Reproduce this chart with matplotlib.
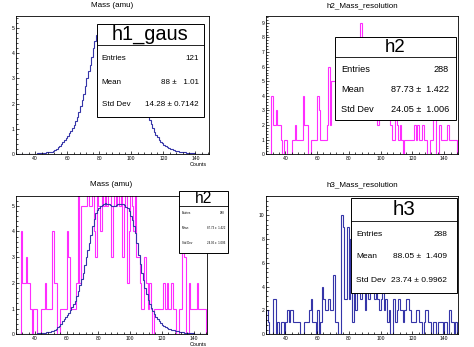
"""Four ROOT-style histogram panels: h1_gaus, h2, overlay, h3."""
import numpy as np
import matplotlib
matplotlib.use("Agg")
import matplotlib.pyplot as plt
from matplotlib.patches import Rectangle
from matplotlib.lines import Line2D
from matplotlib.ticker import MultipleLocator

plt.rcParams["font.family"] = ["Liberation Sans", "DejaVu Sans"]

W, H = 474, 347

# bins are 1 unit wide, starting at BIN_LO
BIN_LO, BIN_HI = 28, 148

# smooth gaussian-like histogram (bins 28..147)
h1_gaus = [
    0.00, 0.00, 0.00, 0.00, 0.00,
    0.01, 0.01, 0.01, 0.02, 0.02, 0.03, 0.03,
    0.03, 0.04, 0.04, 0.05, 0.05, 0.06, 0.07, 0.08, 0.09, 0.10,
    0.11, 0.13, 0.16, 0.21, 0.27, 0.34, 0.42, 0.50, 0.58, 0.66,
    0.74, 0.84, 0.94, 1.05, 1.16, 1.30, 1.48, 1.68, 1.92, 2.15,
    2.40, 2.70, 3.00, 3.28, 3.55, 3.85, 4.20, 4.50, 4.72, 4.85,
    4.93, 4.98, 5.03, 5.07, 5.09, 5.08, 5.05, 5.02, 5.00, 4.99,
    5.00, 5.03, 5.06, 5.08, 5.08, 5.06, 5.02, 4.97, 4.90, 4.78,
    4.62, 4.45, 4.20, 3.95, 3.55, 3.10, 2.75, 2.40, 2.10, 1.80,
    1.55, 1.35, 1.18, 1.03, 0.90, 0.78, 0.67, 0.58, 0.50, 0.43,
    0.37, 0.33, 0.29, 0.25, 0.22, 0.19, 0.17, 0.15, 0.13, 0.12,
    0.11, 0.10, 0.09, 0.08, 0.07, 0.06, 0.05, 0.05, 0.04, 0.04,
    0.03, 0.03, 0.02, 0.01, 0.01, 0.00, 0.00, 0.00,
]

# h2 counts (bins 28..147)
h2_counts = [
    0, 0, 0, 4, 2, 2, 3, 2, 2, 1, 0, 1,
    1, 0, 0, 0, 1, 1, 2, 1, 1, 1,
    1, 4, 2, 2, 0, 0, 1, 1, 1, 1,
    4, 3, 1, 1, 1, 1, 2, 6, 2, 5,
    5, 5, 5, 6, 5, 5, 7, 4, 3, 6,
    5, 4, 6, 5, 7, 5, 6, 9, 3, 5,
    6, 5, 7, 5, 6, 3, 5, 6, 2, 4,
    6, 5, 4, 6, 3, 3, 2, 1, 1, 3,
    2, 1, 2, 1, 0, 1, 1, 1, 1, 1,
    1, 2, 1, 2, 1, 1, 2, 1, 1, 0,
    0, 1, 1, 4, 3, 0, 0, 2, 1, 1,
    1, 1, 2, 1, 1, 1, 1, 1,
]

# h3 counts (bins 28..147)
h3_counts = [
    2, 1, 0, 0, 3, 3, 0, 1, 0, 1, 1, 0,
    1, 2, 1, 2, 2, 1, 1, 1, 1, 0,
    0, 0, 1, 1, 1, 2, 3, 1, 1, 0,
    2, 0, 1, 4, 3, 2, 2, 3, 2, 2,
    5, 1, 1, 0, 0, 10, 9, 3, 3, 9,
    3, 8, 1, 4, 2, 5, 6, 3, 6, 4,
    2, 5, 3, 6, 4, 5, 3, 4, 3, 2,
    3, 4, 2, 3, 1, 2, 0, 0, 3, 1,
    2, 3, 2, 2, 1, 2, 3, 3, 2, 1,
    1, 1, 2, 2, 1, 1, 0, 1, 2, 2,
    1, 1, 0, 1, 1, 0, 1, 1, 1, 0,
    1, 1, 0, 2, 1, 1, 0, 1,
]

stats_labels = ["Entries", "Mean", "Std Dev"]
stats_h1 = ["121", "88 \u00b1   1.01", "14.28 \u00b1 0.7142"]
stats_h2 = ["288", "87.73 \u00b1  1.422", "24.05 \u00b1  1.006"]
stats_h3 = ["288", "88.05 \u00b1  1.409", "23.74 \u00b1 0.9962"]

edges = np.arange(BIN_LO, BIN_HI + 1)

BLUE = "#3535a8"
MAGENTA = "#ff2cff"


def fx(px):
    return px / W


def fy(py):
    return 1 - py / H


def make_axes(fig, l, t, r, b, ylim, ymajor, yminor):
    ax = fig.add_axes([fx(l), fy(b), fx(r) - fx(l), (b - t) / H])
    ax.set_xlim(28, 148.5)
    ax.set_ylim(*ylim)
    ax.xaxis.set_major_locator(MultipleLocator(20))
    ax.xaxis.set_minor_locator(MultipleLocator(4))
    ax.yaxis.set_major_locator(MultipleLocator(ymajor))
    ax.yaxis.set_minor_locator(MultipleLocator(yminor))
    ax.tick_params(which="both", direction="in", top=False, right=False,
                   labelsize=3.6, width=0.5, pad=1.2)
    ax.tick_params(which="major", length=2.4)
    ax.tick_params(which="minor", length=1.2)
    for s in ax.spines.values():
        s.set_linewidth(0.6)
    return ax


def stats_box(fig, l, t, r, b, sep, rows, lab_x, val_x, title, tsize, vals, size):
    fig.add_artist(Rectangle((fx(l), fy(b)), fx(r) - fx(l), (b - t) / H,
                             transform=fig.transFigure, facecolor="white",
                             edgecolor="black", linewidth=0.7, zorder=5))
    fig.add_artist(Line2D([fx(l), fx(r)], [fy(sep), fy(sep)],
                          transform=fig.transFigure, color="black",
                          linewidth=0.6, zorder=6))
    fig.text(fx((l + r) / 2), fy((t + sep) / 2), title, ha="center",
             va="center", fontsize=tsize, zorder=7)
    for yrow, lab, val in zip(rows, stats_labels, vals):
        fig.text(fx(lab_x), fy(yrow), lab, ha="left", va="center",
                 fontsize=size, zorder=7)
        fig.text(fx(val_x), fy(yrow), val, ha="right", va="center",
                 fontsize=size, zorder=7)


fig = plt.figure(figsize=(W / 100, H / 100), dpi=100)

# top left: h1_gaus
ax1 = make_axes(fig, 16, 16, 209, 154.3, (0, 5.47), 1, 0.2)
ax1.stairs(h1_gaus, edges, color=BLUE, linewidth=0.8)
fig.text(fx(112.5), fy(5.5), "Mass (amu)", ha="center", va="center", fontsize=5.8)
fig.text(fx(207), fy(164), "Counts", ha="right", va="center", fontsize=3.9)
stats_box(fig, 96.7, 24, 204, 117, 45, [59, 82, 105], 101.7, 199,
          "h1_gaus", 14.4, stats_h1, 5.8)

# top right: h2
ax2 = make_axes(fig, 266.3, 16, 457.7, 154.3, (0, 9.47), 1, 0.2)
ax2.stairs(h2_counts, edges, color=MAGENTA, linewidth=0.8)
fig.text(fx(362), fy(5.5), "h2_Mass_resolution", ha="center", va="center", fontsize=5.8)
stats_box(fig, 335, 37, 456, 120, 57, [69, 89, 110], 341.3, 449,
          "h2", 13.4, stats_h2, 6.6)

# bottom left: overlay
ax3 = make_axes(fig, 16, 196, 207, 334.3, (0, 5.38), 1, 0.2)
ax3.stairs(h2_counts, edges, color=MAGENTA, linewidth=0.8)
ax3.stairs(h1_gaus, edges, color=BLUE, linewidth=0.8)
fig.text(fx(111.5), fy(185), "Mass (amu)", ha="center", va="center", fontsize=5.8)
fig.text(fx(207), fy(344), "Counts", ha="right", va="center", fontsize=3.9)
stats_box(fig, 179, 191, 228, 253, 206, [213, 228, 243], 181.7, 225,
          "h2", 11.2, stats_h2, 2.1)

# bottom right: h3
ax4 = make_axes(fig, 266.3, 196, 457.7, 334.3, (0, 11.6), 2, 0.4)
ax4.stairs(h3_counts, edges, color=BLUE, linewidth=0.8)
fig.text(fx(362), fy(185), "h3_Mass_resolution", ha="center", va="center", fontsize=5.8)
stats_box(fig, 351, 198, 457, 293, 221, [234, 257, 281], 356.3, 447,
          "h3", 14.7, stats_h3, 6.0)

fig.savefig("out.png", dpi=100)
